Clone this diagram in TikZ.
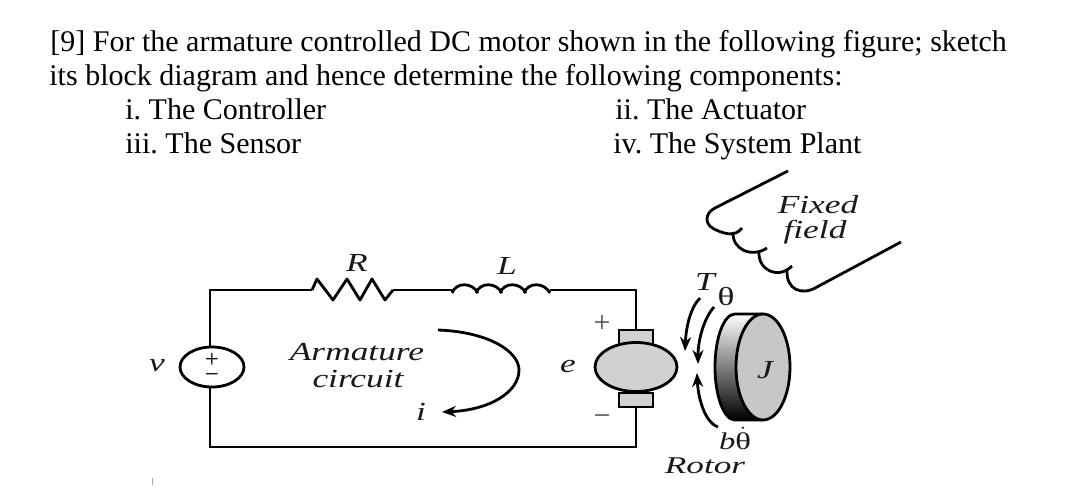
\documentclass[tikz,border=0pt]{standalone}
\usepackage{fontspec}
\usepackage{graphicx}
\setmainfont{Liberation Serif}
\usetikzlibrary{shapes.geometric,arrows.meta}
\newcommand{\widelab}[1]{\scalebox{1.36}[1]{\itshape #1}}
\begin{document}
\frenchspacing
\begin{tikzpicture}[x=1pt,y=-1pt,>={Stealth[length=14pt,width=11pt]},line width=2.8pt,
    body text/.style={font=\fontsize{30}{34}\selectfont,anchor=base west,inner sep=0pt},
    lab/.style={font=\fontsize{26}{28}\selectfont,inner sep=0pt,text=black!90},
    sign/.style={font=\fontsize{30}{30}\selectfont,inner sep=0pt,text=black!70},
    brush/.style={draw,rectangle,fill=black!18,minimum width=34pt,minimum height=14pt,inner sep=0pt}]
    \useasboundingbox (0,0) rectangle (1080,492);

    % question text
    \node[body text] (line1) at (49,52) {[9] For the armature controlled DC motor shown in the following figure; sketch};
    \node[body text] (line2) at (48,86) {its block diagram and hence determine the following components:};
    \node[body text] (compA) at (124,120) {i. The Controller};
    \node[body text] (compB) at (614,120) {ii. The Actuator};
    \node[body text] (compC) at (124,154) {iii. The Sensor};
    \node[body text] (compD) at (612,154) {iv. The System Plant};

    % circuit
    \node[draw,ellipse,inner sep=0pt,minimum width=64pt,minimum height=40pt] (src) at (212,367) {};
    \node[sign,text=black,font=\fontsize{25}{25}\selectfont] (srcPlus) at (212,360) {+};
    \node[sign,text=black,font=\fontsize{25}{25}\selectfont] (srcMinus) at (212,378) {−};
    \node[brush] (brushT) at (636,337) {};
    \node[brush] (brushB) at (636,400) {};
    \node[draw,ellipse,fill=black!18,inner sep=0pt,minimum width=82pt,minimum height=49pt] (motor) at (636,367) {};
    \coordinate (cornerTL) at (210,290);
    \coordinate (cornerTR) at (636,290);
    \coordinate (cornerBL) at (210,447);
    \coordinate (cornerBR) at (636,447);
    \coordinate (resA) at (312,290);
    \coordinate (resB) at (393,290);
    \coordinate (indA) at (452,290);
    \coordinate (indB) at (550,290);

    \draw (src.north -| cornerTL) -- (cornerTL) -- (resA);
    \draw (resB) -- (indA);
    \draw (indB) -- (cornerTR) -- (brushT.north);
    \draw (src.south -| cornerBL) -- (cornerBL) -- (cornerBR) -- (brushB.south);

    % resistor and inductor
    \draw[line join=round] (resA) -- (317,279) -- (333,300) -- (347,279) -- (360,300) -- (372,279) -- (385,300) -- (resB);
    \foreach \xa in {452,476,500,524}
        \draw (\xa,293) .. controls (\xa+4,282) and (\xa+20,282) .. (\xa+26,293);

    % current arrow
    \coordinate (arcA) at (438,330);
    \coordinate (arcB) at (442,412);
    \draw[->] (arcA) .. controls (490,332) and (519,352) .. (519,370) .. controls (519,392) and (490,410) .. (arcB);

    % rotor
    \path[shade,top color=white,middle color=black!20,bottom color=black] (735,314) -- (763,314) -- (763,420) -- (735,420) arc[start angle=-270,end angle=-90,x radius=20,y radius=53];
    \draw (763,314) -- (735,314) arc[start angle=-90,end angle=-270,x radius=20,y radius=53] -- (763,420);
    \node[draw,ellipse,fill=black!22,inner sep=0pt,minimum width=54pt,minimum height=106pt] (disc) at (763,367) {};

    % torque arrows
    \coordinate (torqueA) at (700,298);
    \coordinate (torqueB) at (685,351);
    \coordinate (thetaA) at (714,307);
    \coordinate (thetaB) at (698,364);
    \coordinate (dampA) at (718,427);
    \coordinate (dampB) at (697,373);
    \draw[->] (torqueA) .. controls (690,308) and (686,328) .. (torqueB);
    \draw[->] (thetaA) .. controls (704,318) and (698,340) .. (thetaB);
    \draw[->] (dampA) .. controls (704,422) and (698,396) .. (dampB);

    % fixed field winding
    \draw[line join=round] (788,171) -- (715,208) .. controls (705,213) and (704,224) .. (714,229) .. controls (722,233) and (735,238) .. (742,228);
    \draw (733,232) .. controls (732,250) and (752,258) .. (767,248);
    \draw (759,252) .. controls (758,270) and (778,280) .. (792,266);
    \draw (787,270) .. controls (786,290) and (802,296) .. (817,287) -- (901,242);

    % labels
    \node[lab] (vLab) at (157,366) {\widelab{v}};
    \node[lab] (rLab) at (357,263) {\widelab{R}};
    \node[lab] (lLab) at (507,266) {\widelab{L}};
    \node[lab] (armLab) at (357,352) {\widelab{Armature}};
    \node[lab] (cirLab) at (358,379) {\widelab{circuit}};
    \node[lab] (iLab) at (421,412) {\widelab{i}};
    \node[lab] (eLab) at (568,367) {\widelab{e}};
    \node[sign] (plusLab) at (602,324) {+};
    \node[sign] (minusLab) at (602,420) {−};
    \node[lab] (tLab) at (705,282) {\widelab{T}};
    \node[lab] (thLab) at (726,297) {\scalebox{1.36}[1]{θ}};
    \node[lab] (jLab) at (765,370) {\widelab{J}};
    \node[lab,font=\fontsize{24}{24}\selectfont] (bLab) at (735,438) {\scalebox{1.36}[1]{\textit{b}$\dot{\hbox{θ}}$}};
    \node[lab,font=\fontsize{24}{24}\selectfont] (rotorLab) at (705,466) {\scalebox{1.47}[1]{\itshape Rotor}};
    \node[lab] (fixLab) at (818,205) {\widelab{Fixed}};
    \node[lab] (fldLab) at (815,232) {\widelab{field}};

    \draw[black!35,line width=1pt] (152,478) -- (152,485);
\end{tikzpicture}
\end{document}
